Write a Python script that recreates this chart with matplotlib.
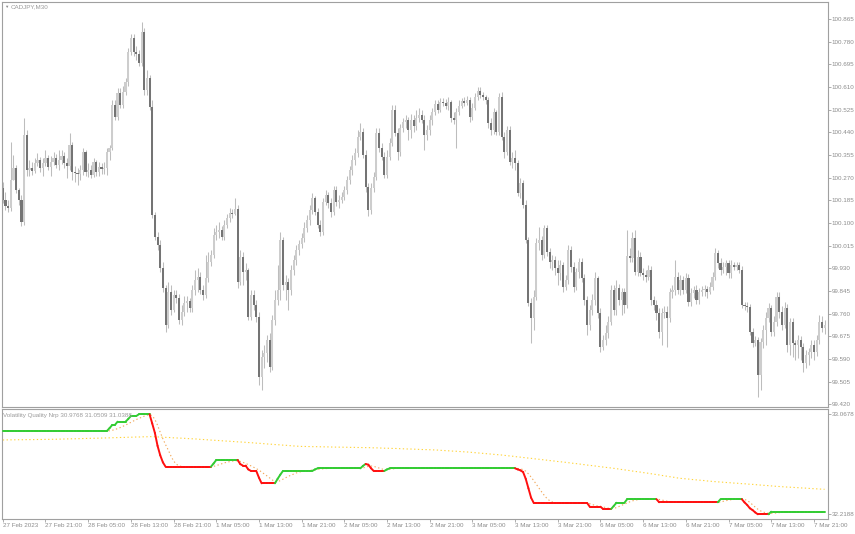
import matplotlib
matplotlib.use("Agg")
import matplotlib.pyplot as plt
import matplotlib.transforms as mtransforms
from matplotlib.collections import LineCollection
import numpy as np

plt.rcParams['font.family'] = ['Liberation Sans', 'DejaVu Sans']

symbol = "CADJPY,M30"
indicator_label = "Volatility Quality Nrp 30.9768 31.0509 31.0388"

# M30 candles, oldest first
first_open = 100.231
closes = [
    100.186, 100.163, 100.156, 100.261, 100.306, 100.223, 100.186, 100.103, 100.430, 100.298,
    100.306, 100.295, 100.325, 100.336, 100.306, 100.325, 100.343, 100.310, 100.328, 100.343,
    100.317, 100.336, 100.351, 100.325, 100.313, 100.392, 100.291, 100.287, 100.283, 100.298,
    100.366, 100.291, 100.298, 100.280, 100.328, 100.291, 100.310, 100.302, 100.306, 100.366,
    100.381, 100.542, 100.497, 100.587, 100.542, 100.591, 100.628, 100.741, 100.793, 100.741,
    100.733, 100.700, 100.816, 100.598, 100.643, 100.535, 100.130, 100.047, 100.017, 99.931,
    99.856, 99.717, 99.841, 99.773, 99.830, 99.818, 99.736, 99.766, 99.800, 99.807,
    99.781, 99.848, 99.886, 99.897, 99.848, 99.830, 99.893, 99.953, 99.980, 100.055,
    100.066, 100.073, 100.047, 100.092, 100.118, 100.137, 100.133, 100.152, 99.878, 99.972,
    99.916, 99.923, 99.747, 99.830, 99.792, 99.747, 99.522, 99.597, 99.612, 99.661,
    99.560, 99.736, 99.811, 99.848, 100.036, 99.867, 99.878, 99.848, 99.923, 99.961,
    99.998, 100.021, 100.043, 100.081, 100.111, 100.148, 100.193, 100.141, 100.092, 100.066,
    100.178, 100.205, 100.175, 100.141, 100.223, 100.178, 100.186, 100.197, 100.223, 100.261,
    100.298, 100.336, 100.362, 100.422, 100.441, 100.355, 100.235, 100.148, 100.231, 100.272,
    100.437, 100.381, 100.347, 100.280, 100.347, 100.400, 100.523, 100.437, 100.366, 100.456,
    100.478, 100.486, 100.448, 100.486, 100.463, 100.493, 100.505, 100.486, 100.430, 100.448,
    100.486, 100.516, 100.546, 100.523, 100.553, 100.550, 100.538, 100.553, 100.493, 100.486,
    100.516, 100.538, 100.557, 100.550, 100.561, 100.497, 100.531, 100.572, 100.595, 100.580,
    100.572, 100.561, 100.475, 100.448, 100.516, 100.441, 100.572, 100.422, 100.366, 100.448,
    100.328, 100.343, 100.325, 100.212, 100.250, 100.167, 100.036, 99.800, 99.743, 99.822,
    100.025, 100.036, 99.980, 100.081, 99.991, 99.953, 99.961, 99.931, 99.912, 99.942,
    99.860, 99.886, 99.998, 99.935, 99.860, 99.916, 99.953, 99.893, 99.811, 99.717,
    99.773, 99.811, 99.893, 99.762, 99.635, 99.661, 99.687, 99.728, 99.848, 99.773,
    99.856, 99.811, 99.841, 99.792, 99.976, 99.968, 100.043, 99.916, 99.972, 99.912,
    99.905, 99.897, 99.923, 99.811, 99.792, 99.762, 99.691, 99.762, 99.766, 99.743,
    99.841, 99.848, 99.897, 99.848, 99.886, 99.848, 99.893, 99.803, 99.837, 99.848,
    99.811, 99.841, 99.848, 99.852, 99.841, 99.860, 99.897, 99.987, 99.950, 99.923,
    99.935, 99.950, 99.912, 99.942, 99.935, 99.942, 99.923, 99.792, 99.788, 99.785,
    99.691, 99.650, 99.661, 99.530, 99.653, 99.698, 99.743, 99.781, 99.691, 99.728,
    99.822, 99.766, 99.717, 99.781, 99.642, 99.728, 99.650, 99.642, 99.661, 99.635,
    99.575, 99.605, 99.616, 99.642, 99.616, 99.661, 99.728, 99.706, 99.717,
]
highs = [
    100.253, 100.216, 100.186, 100.403, 100.355, 100.317, 100.231, 100.205, 100.493, 100.448,
    100.336, 100.328, 100.343, 100.362, 100.347, 100.343, 100.373, 100.355, 100.351, 100.366,
    100.358, 100.373, 100.373, 100.366, 100.343, 100.437, 100.403, 100.313, 100.306, 100.317,
    100.381, 100.373, 100.325, 100.317, 100.343, 100.336, 100.328, 100.325, 100.328, 100.381,
    100.392, 100.561, 100.561, 100.606, 100.606, 100.613, 100.643, 100.756, 100.808, 100.808,
    100.763, 100.748, 100.854, 100.831, 100.673, 100.655, 100.561, 100.141, 100.066, 100.036,
    99.953, 99.867, 99.878, 99.867, 99.848, 99.848, 99.833, 99.792, 99.826, 99.826,
    99.818, 99.867, 99.923, 99.931, 99.916, 99.867, 99.980, 99.991, 99.998, 100.081,
    100.092, 100.103, 100.088, 100.111, 100.133, 100.156, 100.152, 100.193, 100.167, 99.998,
    99.991, 99.950, 99.931, 99.848, 99.848, 99.811, 99.766, 99.623, 99.642, 99.680,
    99.687, 99.755, 99.848, 99.942, 100.066, 100.047, 99.905, 99.893, 99.942, 99.980,
    100.017, 100.036, 100.062, 100.103, 100.130, 100.167, 100.212, 100.201, 100.156, 100.111,
    100.193, 100.223, 100.216, 100.193, 100.238, 100.238, 100.205, 100.216, 100.238, 100.276,
    100.313, 100.355, 100.381, 100.448, 100.475, 100.456, 100.373, 100.250, 100.250, 100.291,
    100.456, 100.456, 100.400, 100.366, 100.373, 100.418, 100.542, 100.542, 100.456, 100.471,
    100.493, 100.505, 100.497, 100.508, 100.505, 100.523, 100.531, 100.523, 100.505, 100.467,
    100.505, 100.531, 100.561, 100.561, 100.568, 100.568, 100.565, 100.572, 100.561, 100.516,
    100.531, 100.561, 100.568, 100.572, 100.576, 100.572, 100.550, 100.587, 100.610, 100.610,
    100.591, 100.580, 100.572, 100.493, 100.531, 100.523, 100.587, 100.591, 100.441, 100.463,
    100.463, 100.366, 100.373, 100.336, 100.268, 100.261, 100.186, 100.047, 99.818, 99.848,
    100.043, 100.085, 100.051, 100.092, 100.092, 100.006, 99.980, 99.976, 99.961, 99.961,
    99.953, 99.905, 100.017, 100.013, 99.953, 99.931, 99.968, 99.968, 99.908, 99.826,
    99.792, 99.833, 99.916, 99.901, 99.781, 99.680, 99.717, 99.751, 99.867, 99.867,
    99.886, 99.871, 99.856, 99.856, 100.073, 100.006, 100.066, 100.073, 99.998, 99.991,
    99.931, 99.923, 99.942, 99.938, 99.826, 99.811, 99.781, 99.781, 99.788, 99.788,
    99.856, 99.867, 99.961, 99.916, 99.905, 99.901, 99.912, 99.908, 99.856, 99.863,
    99.867, 99.856, 99.863, 99.867, 99.863, 99.878, 99.916, 100.006, 99.998, 99.968,
    99.953, 99.961, 99.961, 99.961, 99.953, 99.953, 99.953, 99.938, 99.803, 99.803,
    99.796, 99.706, 99.676, 99.672, 99.668, 99.717, 99.766, 99.800, 99.792, 99.751,
    99.841, 99.841, 99.788, 99.803, 99.796, 99.743, 99.743, 99.661, 99.680, 99.676,
    99.650, 99.623, 99.631, 99.661, 99.661, 99.680, 99.755, 99.751, 99.736,
]
lows = [
    100.175, 100.148, 100.141, 100.145, 100.261, 100.212, 100.167, 100.088, 100.092, 100.276,
    100.276, 100.280, 100.287, 100.313, 100.291, 100.276, 100.313, 100.298, 100.276, 100.317,
    100.306, 100.298, 100.321, 100.306, 100.268, 100.298, 100.261, 100.253, 100.242, 100.261,
    100.280, 100.276, 100.272, 100.268, 100.272, 100.276, 100.276, 100.283, 100.283, 100.280,
    100.336, 100.373, 100.486, 100.486, 100.531, 100.531, 100.580, 100.613, 100.730, 100.726,
    100.711, 100.688, 100.688, 100.580, 100.580, 100.523, 100.118, 100.036, 99.998, 99.916,
    99.841, 99.691, 99.706, 99.755, 99.766, 99.800, 99.721, 99.717, 99.751, 99.766,
    99.766, 99.766, 99.830, 99.841, 99.833, 99.811, 99.818, 99.878, 99.938, 99.968,
    100.036, 100.043, 100.036, 100.036, 100.081, 100.103, 100.118, 100.130, 99.856, 99.867,
    99.867, 99.886, 99.736, 99.736, 99.773, 99.728, 99.492, 99.473, 99.556, 99.578,
    99.541, 99.548, 99.717, 99.792, 99.811, 99.848, 99.811, 99.773, 99.830, 99.905,
    99.942, 99.980, 100.006, 100.028, 100.066, 100.092, 100.133, 100.130, 100.081, 100.051,
    100.055, 100.167, 100.156, 100.122, 100.130, 100.163, 100.156, 100.175, 100.186, 100.208,
    100.246, 100.280, 100.317, 100.347, 100.411, 100.343, 100.216, 100.126, 100.133, 100.216,
    100.261, 100.366, 100.336, 100.268, 100.268, 100.336, 100.388, 100.426, 100.336, 100.351,
    100.441, 100.456, 100.411, 100.418, 100.441, 100.448, 100.478, 100.475, 100.373, 100.411,
    100.430, 100.467, 100.505, 100.512, 100.516, 100.538, 100.527, 100.523, 100.478, 100.471,
    100.381, 100.505, 100.531, 100.538, 100.542, 100.478, 100.486, 100.523, 100.561, 100.568,
    100.561, 100.546, 100.456, 100.430, 100.433, 100.430, 100.430, 100.411, 100.343, 100.355,
    100.317, 100.306, 100.298, 100.201, 100.193, 100.156, 100.025, 99.788, 99.650, 99.698,
    99.811, 99.998, 99.961, 99.968, 99.976, 99.931, 99.923, 99.905, 99.867, 99.886,
    99.841, 99.848, 99.871, 99.916, 99.841, 99.848, 99.893, 99.878, 99.792, 99.680,
    99.698, 99.755, 99.792, 99.743, 99.616, 99.623, 99.642, 99.668, 99.717, 99.755,
    99.755, 99.792, 99.755, 99.762, 99.781, 99.953, 99.953, 99.905, 99.901, 99.901,
    99.886, 99.878, 99.886, 99.792, 99.773, 99.736, 99.668, 99.642, 99.743, 99.635,
    99.728, 99.818, 99.830, 99.833, 99.830, 99.833, 99.837, 99.788, 99.788, 99.818,
    99.796, 99.796, 99.826, 99.826, 99.818, 99.833, 99.848, 99.886, 99.931, 99.905,
    99.912, 99.905, 99.893, 99.893, 99.923, 99.923, 99.912, 99.781, 99.773, 99.766,
    99.680, 99.635, 99.638, 99.447, 99.473, 99.631, 99.642, 99.728, 99.676, 99.676,
    99.713, 99.743, 99.698, 99.706, 99.616, 99.605, 99.597, 99.586, 99.593, 99.586,
    99.541, 99.556, 99.567, 99.593, 99.586, 99.601, 99.646, 99.691, 99.683,
]

# Volatility Quality Nrp buffers
vq = ([32.926] * 40 + [32.950, 32.977, 32.977] + [33.005] * 4 + [33.028] + [33.053] * 3
      + [33.068] * 5 + [32.990, 32.910, 32.800, 32.720, 32.660] + [32.623] * 18
      + [32.650] + [32.680] * 9 + [32.645, 32.632, 32.632, 32.600] + [32.587] * 3
      + [32.530] + [32.482] * 6 + [32.520, 32.555] + [32.587] * 12 + [32.600]
      + [32.609] * 17 + [32.630, 32.646, 32.640, 32.610] + [32.587] * 5 + [32.600]
      + [32.609] * 48 + [32.600, 32.592, 32.578, 32.520, 32.440, 32.360] + [32.315] * 21
      + [32.283] * 5 + [32.264] * 4 + [32.290] + [32.317] * 4 + [32.347] * 12
      + [32.321] * 23 + [32.347] * 9 + [32.320, 32.298, 32.270, 32.255, 32.235, 32.219]
      + [32.219] * 4 + [32.241] * 21)

vq_fast = ([32.926] * 40
           + [32.928, 32.932, 32.938, 32.946, 32.955, 32.965, 32.976, 32.988, 33.000, 33.012,
              33.023, 33.033, 33.043, 33.052, 33.060, 33.066, 33.055, 33.025, 32.975, 32.915,
              32.860, 32.810, 32.765, 32.715, 32.672, 32.645, 32.630, 32.625]
           + [32.623] * 11
           + [32.626, 32.632, 32.640, 32.648, 32.655, 32.661, 32.666, 32.670, 32.673, 32.674,
              32.668, 32.660, 32.651, 32.641, 32.630, 32.619, 32.607, 32.594, 32.578, 32.562,
              32.545, 32.528, 32.510, 32.494, 32.496, 32.505, 32.517, 32.529, 32.541, 32.551,
              32.561, 32.570, 32.577, 32.582, 32.586, 32.589, 32.592, 32.594, 32.597, 32.600,
              32.603, 32.605, 32.607, 32.608]
           + [32.609] * 12
           + [32.612, 32.619, 32.626, 32.629, 32.626, 32.619, 32.611, 32.604, 32.599, 32.599,
              32.601, 32.604, 32.607]
           + [32.609] * 45
           + [32.608, 32.605, 32.598, 32.585, 32.562, 32.535, 32.505, 32.472, 32.440, 32.408,
              32.378, 32.352, 32.334, 32.323, 32.317]
           + [32.315] * 12
           + [32.309, 32.301, 32.294, 32.289, 32.286, 32.281, 32.276, 32.271, 32.268, 32.269,
              32.276, 32.286, 32.296, 32.306, 32.316, 32.325, 32.333, 32.339, 32.343, 32.346]
           + [32.347] * 6
           + [32.345, 32.340, 32.335, 32.330, 32.327, 32.324]
           + [32.321] * 17
           + [32.324, 32.329, 32.334, 32.339, 32.343, 32.345]
           + [32.347] * 3
           + [32.345, 32.336, 32.320, 32.300, 32.280, 32.262, 32.248, 32.238, 32.232, 32.228,
              32.227, 32.228, 32.230, 32.233, 32.236, 32.239]
           + [32.241] * 15)

vq_slow = [
    32.850, 32.850, 32.851, 32.851, 32.851, 32.852, 32.852, 32.852, 32.852, 32.853,
    32.853, 32.853, 32.853, 32.854, 32.854, 32.854, 32.855, 32.855, 32.855, 32.856,
    32.856, 32.857, 32.857, 32.858, 32.859, 32.859, 32.860, 32.860, 32.861, 32.861,
    32.862, 32.863, 32.863, 32.864, 32.864, 32.865, 32.865, 32.866, 32.867, 32.867,
    32.868, 32.869, 32.869, 32.870, 32.871, 32.871, 32.872, 32.873, 32.873, 32.874,
    32.875, 32.875, 32.876, 32.877, 32.877, 32.878, 32.878, 32.877, 32.876, 32.874,
    32.873, 32.872, 32.871, 32.870, 32.868, 32.867, 32.866, 32.865, 32.864, 32.862,
    32.861, 32.860, 32.859, 32.857, 32.855, 32.854, 32.852, 32.851, 32.849, 32.848,
    32.846, 32.845, 32.843, 32.842, 32.840, 32.839, 32.837, 32.836, 32.834, 32.833,
    32.831, 32.830, 32.828, 32.827, 32.825, 32.823, 32.822, 32.820, 32.818, 32.816,
    32.815, 32.813, 32.811, 32.810, 32.808, 32.806, 32.805, 32.803, 32.801, 32.799,
    32.798, 32.796, 32.795, 32.795, 32.794, 32.794, 32.793, 32.793, 32.793, 32.792,
    32.792, 32.791, 32.791, 32.790, 32.790, 32.789, 32.789, 32.789, 32.788, 32.788,
    32.787, 32.787, 32.787, 32.786, 32.786, 32.785, 32.785, 32.785, 32.784, 32.783,
    32.783, 32.782, 32.781, 32.780, 32.780, 32.779, 32.778, 32.778, 32.777, 32.776,
    32.775, 32.774, 32.773, 32.773, 32.772, 32.771, 32.770, 32.769, 32.768, 32.768,
    32.767, 32.766, 32.765, 32.764, 32.762, 32.761, 32.759, 32.758, 32.756, 32.755,
    32.754, 32.752, 32.751, 32.749, 32.748, 32.746, 32.744, 32.742, 32.740, 32.738,
    32.736, 32.734, 32.732, 32.730, 32.728, 32.726, 32.724, 32.722, 32.719, 32.717,
    32.714, 32.712, 32.709, 32.706, 32.704, 32.701, 32.699, 32.696, 32.694, 32.691,
    32.688, 32.686, 32.683, 32.681, 32.678, 32.675, 32.673, 32.670, 32.667, 32.665,
    32.662, 32.660, 32.657, 32.654, 32.651, 32.649, 32.646, 32.643, 32.640, 32.637,
    32.634, 32.632, 32.629, 32.626, 32.623, 32.620, 32.617, 32.615, 32.612, 32.609,
    32.606, 32.603, 32.599, 32.596, 32.593, 32.590, 32.586, 32.583, 32.580, 32.577,
    32.573, 32.570, 32.567, 32.563, 32.560, 32.556, 32.553, 32.549, 32.545, 32.542,
    32.538, 32.535, 32.531, 32.527, 32.524, 32.522, 32.520, 32.518, 32.515, 32.513,
    32.511, 32.509, 32.507, 32.505, 32.502, 32.500, 32.498, 32.496, 32.494, 32.493,
    32.491, 32.489, 32.488, 32.486, 32.484, 32.483, 32.481, 32.479, 32.478, 32.476,
    32.474, 32.473, 32.471, 32.469, 32.467, 32.465, 32.464, 32.462, 32.460, 32.458,
    32.456, 32.455, 32.453, 32.452, 32.450, 32.449, 32.448, 32.446, 32.445, 32.443,
    32.442, 32.441, 32.439, 32.438, 32.436, 32.435, 32.434, 32.432, 32.431,
]

time_labels = ["27 Feb 2023", "27 Feb 21:00", "28 Feb 05:00", "28 Feb 13:00", "28 Feb 21:00",
               "1 Mar 05:00", "1 Mar 13:00", "1 Mar 21:00", "2 Mar 05:00", "2 Mar 13:00",
               "2 Mar 21:00", "3 Mar 05:00", "3 Mar 13:00", "3 Mar 21:00", "6 Mar 05:00",
               "6 Mar 13:00", "6 Mar 21:00", "7 Mar 05:00", "7 Mar 13:00", "7 Mar 21:00"]
bars_per_label = 16
price_ticks = [99.420, 99.505, 99.590, 99.675, 99.760, 99.845, 99.930, 100.015, 100.100,
               100.185, 100.270, 100.355, 100.440, 100.525, 100.610, 100.695, 100.780, 100.865]
vq_ticks = [32.2188, 33.0678]

GRID = '#a0a0a0'
TXT = '#8c8c8c'
FS = 4.5

W, H = 855, 534
fig = plt.figure(figsize=(W / 100, H / 100), dpi=100)
ax = fig.add_axes([1.5 / W, 1 - 407 / H, 826 / W, 405 / H])
ax2 = fig.add_axes([1.5 / W, 1 - 519 / H, 826 / W, 110.5 / H])

closes = np.array(closes)
opens = np.r_[first_open, closes[:-1]]
highs = np.maximum(np.array(highs), np.maximum(opens, closes))
lows = np.minimum(np.array(lows), np.minimum(opens, closes))
x = np.arange(len(closes))
up = closes >= opens

ax.vlines(x, lows, highs, color='#bdbdbd', lw=0.75, zorder=1)
ax.bar(x[up], closes[up] - opens[up], bottom=opens[up], width=0.78,
       color='#cdcdcd', lw=0, zorder=2)
ax.bar(x[~up], opens[~up] - closes[~up], bottom=closes[~up], width=0.78,
       color='#747474', lw=0, zorder=2)

xlim = (-0.49, 309.1)
ax.set_xlim(*xlim)
ax.set_ylim(99.4098, 100.9285)
ax.set_xticks([])
ax.yaxis.tick_right()
ax.set_yticks(price_ticks)
ax.set_yticklabels([f"{p:.3f}" for p in price_ticks])

# indicator window
vq = np.array(vq)
colors = []
trend_up = True
for i in range(1, len(vq)):
    if vq[i] > vq[i - 1]:
        trend_up = True
    elif vq[i] < vq[i - 1]:
        trend_up = False
    colors.append('#33cc33' if trend_up else '#ff1010')
segs = [[(i - 1, vq[i - 1]), (i, vq[i])] for i in range(1, len(vq))]
ax2.plot(x, vq_slow, color='#ffd43a', lw=0.8, ls=(0, (1.2, 2.2)), zorder=2)
ax2.plot(x, vq_fast, color='#f2a85a', lw=0.8, ls=(0, (1.2, 2.2)), zorder=2)
ax2.add_collection(LineCollection(segs, colors=colors, linewidths=1.4,
                                  capstyle='round', zorder=3))
ax2.set_xlim(*xlim)
ax2.set_ylim(32.179, 33.117)
ax2.yaxis.tick_right()
ax2.set_yticks(vq_ticks)
ax2.set_yticklabels([f"{v:.4f}" for v in vq_ticks])
ax2.set_xticks([k * bars_per_label for k in range(len(time_labels))])
ax2.set_xticklabels(time_labels, ha='left')
shift = mtransforms.ScaledTranslation(1.5 / 100, 0, fig.dpi_scale_trans)
for lab in ax2.get_xticklabels():
    lab.set_transform(lab.get_transform() + shift)

for a in (ax, ax2):
    for s in a.spines.values():
        s.set_color(GRID)
        s.set_linewidth(0.8)
    a.tick_params(axis='both', direction='out', length=2.2, width=0.6, color=GRID,
                  labelsize=FS, labelcolor=TXT, pad=1.0)

fig.text(4 / W, 1 - 7 / H, '\u25bc', fontsize=3.2, color='#8a8a8a', va='center', ha='left')
fig.text(11 / W, 1 - 7 / H, symbol, fontsize=FS, color='#9a9a9a', va='center', ha='left')
fig.text(3 / W, 1 - 415 / H, indicator_label, fontsize=FS, color='#9a9a9a',
         va='center', ha='left', zorder=1)

fig.savefig('out.png', dpi=100, facecolor='white')
